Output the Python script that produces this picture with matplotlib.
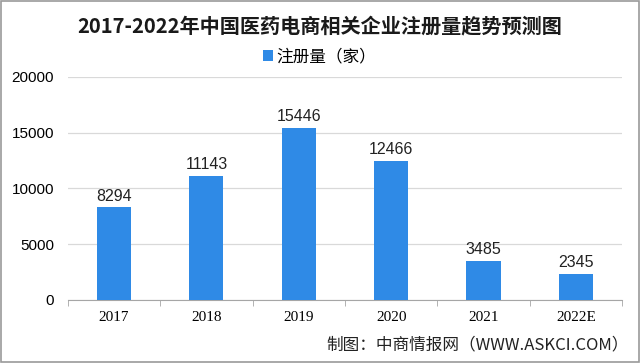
import matplotlib.pyplot as plt
import numpy as np
from matplotlib.patches import Rectangle

plt.rcParams['font.family'] = ['Noto Sans CJK SC', 'DejaVu Sans']

# ── Data ──────────────────────────────────────────────────────────────────────
years = ["2017", "2018", "2019", "2020", "2021", "2022E"]
counts = [8294, 11143, 15446, 12466, 3485, 2345]

BAR_COLOR = "#2f8ae6"

fig = plt.figure(figsize=(6.4, 3.63), dpi=100)
ax = fig.add_axes([0.106, 0.174, 0.866, 0.614])

x = np.arange(len(years))
ax.bar(x, counts, width=0.37, color=BAR_COLOR, label="注册量（家）", zorder=3)

for xi, v in zip(x, counts):
    ax.text(xi, v + 350, str(v), ha="center", va="bottom", fontsize=11.5,
            family="Liberation Sans", color="#222222")

ax.set_xlim(-0.5, len(years) - 0.5)
ax.set_ylim(0, 20000)
ax.set_yticks(range(0, 20001, 5000))
ax.yaxis.grid(True, color="#d9d9d9", linewidth=0.9, zorder=0)
ax.tick_params(axis="y", length=0, labelsize=11, pad=10)
for lbl in ax.get_yticklabels():
    lbl.set_family("Liberation Sans")

ax.set_xticks(x)
ax.set_xticklabels(years, family="Liberation Serif", fontsize=11)
ax.set_xticks(np.arange(-0.5, len(years)), minor=True)
ax.tick_params(axis="x", which="major", length=0, pad=8)
ax.tick_params(axis="x", which="minor", length=4, color="#a6a6a6")

for side in ["top", "right", "left"]:
    ax.spines[side].set_visible(False)
ax.spines["bottom"].set_color("#a6a6a6")

fig.text(0.5, 0.93, "2017-2022年中国医药电商相关企业注册量趋势预测图",
         ha="center", va="center", fontsize=14.5, fontweight="bold", color="#1a1a1a")

ax.legend(loc="center", bbox_to_anchor=(0.5, 0.843), bbox_transform=fig.transFigure,
          frameon=False, fontsize=12, handlelength=0.6, handleheight=0.6,
          handletextpad=0.2)

fig.text(0.982, 0.05, "制图：中商情报网（WWW.ASKCI.COM）", ha="right", va="center",
         fontsize=12, color="#222222")

# outer frame
fig.patches.append(Rectangle((0.002, 0.003), 0.996, 0.994, transform=fig.transFigure,
                             fill=False, edgecolor="#9a9a9a", linewidth=1.2))

fig.savefig("out.png", dpi=100)
